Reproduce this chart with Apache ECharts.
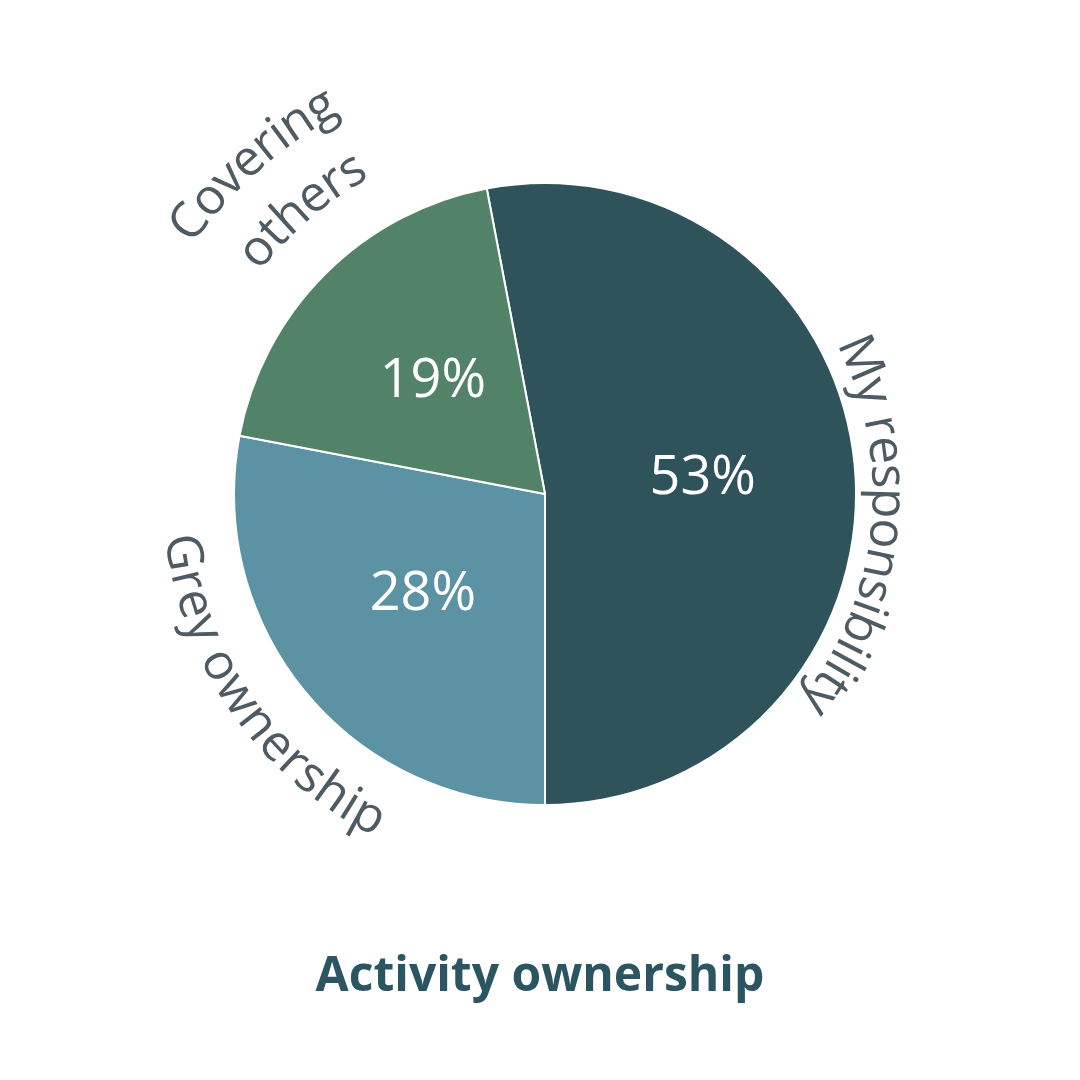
<!DOCTYPE html>
<html><head><meta charset="utf-8">
<script src="https://cdn.jsdelivr.net/npm/echarts@6/dist/echarts.min.js"></script>
<style>html,body{margin:0;padding:0;background:#fff}#c{width:1080px;height:1080px}</style>
</head><body><div id="c"></div>
<script>
const categories = ['My responsibility', 'Grey ownership', 'Covering others'];
const values = [53, 28, 19];
const colors = ['#2e535a', '#5b93a4', '#528267'];
const title = 'Activity ownership';

const CX = 545, CY = 494, R = 311;
const chart = echarts.init(document.getElementById('c'));
const ctx = document.createElement('canvas').getContext('2d');
const FONT = '50px "Open Sans"';
ctx.font = FONT;

// curved label: mid angle (deg clockwise from top), radius, clockwise reading (tops outward) or ccw (tops inward)
function arcText(str, midDeg, r, cw) {
  const widths = [...str].map(ch => ctx.measureText(ch).width);
  const total = widths.reduce((a, b) => a + b, 0);
  const span = total / r;
  const mid = midDeg * Math.PI / 180;
  let acc = 0;
  const out = [];
  [...str].forEach((ch, i) => {
    const off = (acc + widths[i] / 2) / r - span / 2;
    acc += widths[i];
    const th = cw ? mid + off : mid - off;
    const x = CX + r * Math.sin(th), y = CY - r * Math.cos(th);
    const rot = cw ? -th : -(th + Math.PI);
    out.push({
      type: 'text', x: x, y: y, rotation: rot, silent: true,
      style: { text: ch, font: FONT, fill: '#4f5b62', textAlign: 'center', textVerticalAlign: 'middle', align: 'center', verticalAlign: 'middle' }
    });
  });
  return out;
}

const graphics = [].concat(
  arcText(categories[0], 96, 342, true),
  arcText(categories[1], 235, 368, false),
  arcText('Covering', 318.5, 446, true),
  arcText('others', 319.5, 376, true)
);

const startAngle = 90 + values[0] * 3.6 / 2 - 90 + 90 - (values[0] * 3.6 - 180); // = 90 + (53%*360 - 180)
chart.setOption({
  animation: false,
  title: {
    text: title, left: 'center', top: 948,
    textStyle: { fontFamily: 'Open Sans', fontWeight: 'bold', fontSize: 48, color: '#2b5560' }
  },
  graphic: graphics,
  series: [{
    type: 'pie',
    center: [CX, CY],
    radius: [0, R],
    startAngle: 90 + (values[0] * 3.6 - 180),
    clockwise: true,
    data: categories.map((c, i) => ({ name: c, value: values[i], itemStyle: { color: colors[i] } })),
    itemStyle: { borderColor: '#fff', borderWidth: 2 },
    label: {
      position: 'inside', formatter: '{c}%', color: '#fff',
      fontFamily: 'Open Sans', fontSize: 54
    },
    labelLine: { show: false },
    emphasis: { disabled: true }
  }]
});
</script></body></html>
